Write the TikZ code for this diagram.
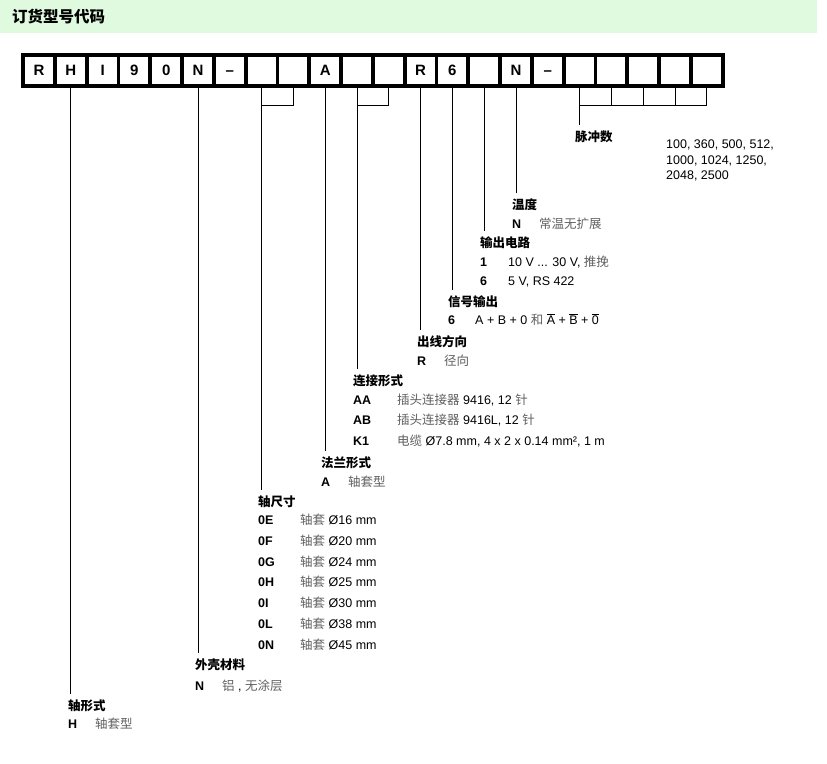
\documentclass[tikz,border=0pt]{standalone}
\usepackage{fontspec}
\setmainfont{Liberation Sans}
\newfontfamily\cjk{Noto Sans CJK SC}
\usetikzlibrary{positioning}
\definecolor{bandgreen}{RGB}{224,250,224}
\definecolor{zhgray}{RGB}{95,95,95}
\newcommand{\zh}[1]{{\cjk\color{zhgray}#1}}
\newcommand{\ovl}[1]{\(\overline{\hbox{#1}}\)}
\tikzset{
  cell/.style={fill=white,minimum width=28pt,minimum height=27.5pt,inner sep=0pt,
    text height=10.7pt,text depth=0pt,font=\bfseries\fontsize{15}{15}\selectfont},
  head/.style={anchor=west,inner sep=0pt,text height=10pt,text depth=1pt,
    font=\cjk\bfseries\fontsize{12.5}{15}\selectfont},
  code/.style={anchor=west,inner sep=0pt,text height=10pt,text depth=1pt,
    font=\bfseries\fontsize{12.5}{15}\selectfont},
  desc/.style={anchor=west,inner sep=0pt,text height=10pt,text depth=1pt,
    font=\fontsize{12.5}{15}\selectfont},
  lead/.style={line width=1pt,shorten >=6.5pt}
}
\begin{document}
\begin{tikzpicture}[x=1pt,y=-1pt]
  \useasboundingbox (0,0) rectangle (827,763);
  % title band
  \fill[bandgreen] (0,0) rectangle (817,33);
  \node[head,font=\cjk\bfseries\fontsize{15.5}{18}\selectfont] (title) at (12,18) {订货型号代码};
  % code boxes
  \fill[black] (21,53) rectangle (725,88);
  \foreach \t [count=\i] in {R,H,I,9,0,N,{\textendash},{},{},A,{},{},R,6,{},N,{\textendash},{},{},{},{},{}}
    \node[cell] (c\i) at ({39+31.8*(\i-1)},70.5) {\t};

  % group headings
  \node[head] (pulse) at (575,137) {脉冲数};
  \node[head] (temp) at (512,205) {温度};
  \node[head] (circuit) at (480,243) {输出电路};
  \node[head] (signal) at (448,302) {信号输出};
  \node[head] (exit) at (417,342) {出线方向};
  \node[head] (conn) at (353,381) {连接形式};
  \node[head] (flange) at (321,463) {法兰形式};
  \node[head] (size) at (258,502) {轴尺寸};
  \node[head] (housing) at (195,665) {外壳材料};
  \node[head] (shaft) at (68,706) {轴形式};

  % leader lines
  \draw[lead] (c2.south) -- (c2.south |- shaft.north);
  \draw[lead] (c6.south) -- (c6.south |- housing.north);
  \draw[line width=1pt] (c9.south) -- ++(0,21.5) -| (c8.south);
  \draw[lead] (c8.south) -- (c8.south |- size.north);
  \draw[lead] (c10.south) -- (c10.south |- flange.north);
  \draw[line width=1pt] (c12.south) -- ++(0,21.5) -| (c11.south);
  \draw[lead] (c11.south) -- (c11.south |- conn.north);
  \draw[lead] (c13.south) -- (c13.south |- exit.north);
  \draw[lead] (c14.south) -- (c14.south |- signal.north);
  \draw[lead] (c15.south) -- (c15.south |- circuit.north);
  \draw[lead] (c16.south) -- (c16.south |- temp.north);
  \draw[line width=1pt] (c22.south) -- ++(0,21.5) -| (c18.south);
  \foreach \k in {19,20,21}
    \draw[line width=1pt] (c\k.south) -- ++(0,21.5);
  \draw[lead] (c18.south) -- (c18.south |- pulse.north);

  % options
  \node[desc,align=left,text height=,text depth=,font=\fontsize{12.5}{15.5}\selectfont] (pvals) at (666,160.5)
    {100, 360, 500, 512,\\1000, 1024, 1250,\\2048, 2500};

  \node[code] (tN) at (512,224) {N};
  \node[desc] (tNd) at (539,224) {\zh{常温无扩展}};

  \node[code] (o1) at (480,262) {1};
  \node[desc] (o1d) at (508,262) {10 V ... 30 V, \zh{推挽}};
  \node[code] (o6) at (480,281) {6};
  \node[desc] (o6d) at (508,281) {5 V, RS 422};

  \node[code] (s6) at (448,320) {6};
  \node[desc] (s6d) at (475,320) {A + B + 0 \zh{和} \ovl{A} + \ovl{B} + \ovl{0}};

  \node[code] (eR) at (417,361) {R};
  \node[desc] (eRd) at (444,361) {\zh{径向}};

  \node[code] (kAA) at (353,400) {AA};
  \node[desc] (kAAd) at (397,400) {\zh{插头连接器} 9416, 12 \zh{针}};
  \node[code] (kAB) at (353,420) {AB};
  \node[desc] (kABd) at (397,420) {\zh{插头连接器} 9416L, 12 \zh{针}};
  \node[code] (kK1) at (353,441) {K1};
  \node[desc] (kK1d) at (397,441) {\zh{电缆} Ø7.8 mm, 4 x 2 x 0.14 mm², 1 m};

  \node[code] (fA) at (321,482) {A};
  \node[desc] (fAd) at (348,482) {\zh{轴套型}};

  \foreach \k/\d [count=\n] in {0E/16,0F/20,0G/24,0H/25,0I/30,0L/38,0N/45} {
    \node[code] (d\k) at (258,{520+20.8*(\n-1)}) {\k};
    \node[desc] (d\k d) at (300,{520+20.8*(\n-1)}) {\zh{轴套} Ø\d\ mm};
  }

  \node[code] (hN) at (195,686) {N};
  \node[desc] (hNd) at (222,686) {\zh{铝} , \zh{无涂层}};

  \node[code] (wH) at (68,724) {H};
  \node[desc] (wHd) at (95,724) {\zh{轴套型}};
\end{tikzpicture}
\end{document}
